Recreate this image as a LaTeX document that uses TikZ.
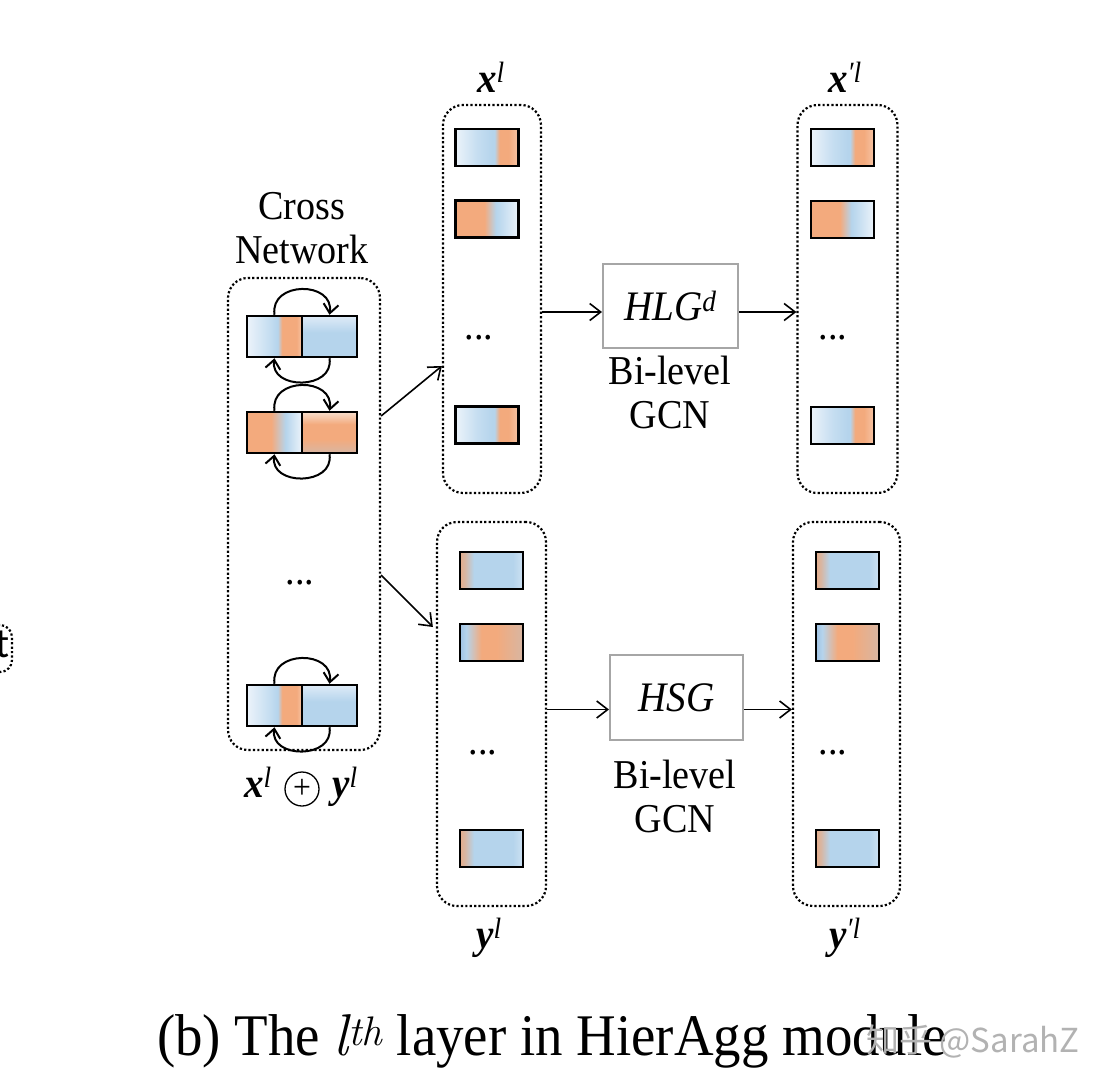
\documentclass[tikz,border=0pt]{standalone}
\usepackage{fontspec}
\setmainfont{Liberation Serif}[FakeStretch=0.93]
\newfontfamily\lmr{Latin Modern Roman}
\newfontfamily\sansf{Carlito}
\newfontfamily\cjk{Noto Sans CJK SC}
\usetikzlibrary{arrows.meta}

\definecolor{wb}{RGB}{236,243,250}
\definecolor{mb}{RGB}{198,222,241}
\definecolor{lb}{RGB}{181,212,236}
\definecolor{db}{RGB}{160,195,228}
\definecolor{orr}{RGB}{243,170,125}
\definecolor{lo}{RGB}{246,196,165}
\definecolor{tn}{RGB}{216,182,162}
\definecolor{tor}{RGB}{228,172,138}
\definecolor{lbt}{RGB}{222,235,247}
\definecolor{lot}{RGB}{248,222,204}
\definecolor{lbb}{RGB}{205,225,242}

% x-type bars: blue -> orange
\pgfdeclarehorizontalshading{sBO}{100bp}{color(0bp)=(wb); color(25bp)=(wb); color(42bp)=(mb); color(54bp)=(lb); color(56bp)=(lb); color(60bp)=(orr); color(67bp)=(orr); color(75bp)=(lo); color(100bp)=(lo)}
% x-type bars: orange -> blue
\pgfdeclarehorizontalshading{sOB}{100bp}{color(0bp)=(orr); color(25bp)=(orr); color(48bp)=(orr); color(57bp)=(lb); color(63bp)=(mb); color(75bp)=(wb); color(100bp)=(wb)}
% y-type bars
\pgfdeclarehorizontalshading{sTB}{100bp}{color(0bp)=(tor); color(25bp)=(tor); color(29bp)=(tn); color(36bp)=(lb); color(67bp)=(lb); color(75bp)=(lbb); color(100bp)=(lbb)}
\pgfdeclarehorizontalshading{sBT}{100bp}{color(0bp)=(db); color(25bp)=(db); color(30bp)=(lb); color(42bp)=(orr); color(54bp)=(orr); color(75bp)=(tn); color(100bp)=(tn)}
% cross network halves
\pgfdeclarehorizontalshading{cLa}{100bp}{color(0bp)=(wb); color(25bp)=(wb); color(45bp)=(mb); color(53bp)=(lb); color(57bp)=(orr); color(70bp)=(orr); color(75bp)=(lo); color(100bp)=(lo)}
\pgfdeclarehorizontalshading{cLb}{100bp}{color(0bp)=(orr); color(25bp)=(orr); color(47bp)=(orr); color(60bp)=(lb); color(75bp)=(wb); color(100bp)=(wb)}
\pgfdeclareverticalshading{cRa}{100bp}{color(0bp)=(lb); color(25bp)=(lb); color(55bp)=(lb); color(75bp)=(lbt); color(100bp)=(lbt)}
\pgfdeclareverticalshading{cRb}{100bp}{color(0bp)=(tn); color(25bp)=(tn); color(42bp)=(orr); color(60bp)=(orr); color(75bp)=(lot); color(100bp)=(lot)}

\newcommand{\supit}[1]{\textsuperscript{\mdseries\itshape #1}}

\begin{document}
\begin{tikzpicture}[x=1pt,y=-1pt,
  lbl/.style={font=\fontsize{41}{44}\selectfont, align=center, inner sep=0pt},
  var/.style={font=\fontsize{42}{44}\selectfont\bfseries\itshape, inner sep=0pt, anchor=base},
  dots/.style={font=\fontsize{41}{44}\selectfont, inner sep=0pt, anchor=base},
  bar/.style={draw, line width=2.5pt, shade, minimum width=63pt, minimum height=37pt, inner sep=0pt},
  half/.style={draw, line width=2.5pt, shade, minimum width=55pt, minimum height=41pt, inner sep=0pt},
  col/.style={draw, line width=2.2pt, dash pattern=on 2.2pt off 2.2pt, rounded corners=20pt, inner sep=0pt},
  gbox/.style={draw=black!35, line width=2pt, inner sep=0pt, font=\fontsize{42}{44}\selectfont\itshape},
  arr/.style={line width=1.6pt, -{Straight Barb[length=11pt,width=17pt]}},
  lp/.style={line width=2pt, -{Straight Barb[length=9pt,width=15pt]}}
]
\clip (0,0) rectangle (1109,1090);
\fill[white] (0,0) rectangle (1109,1090);

% partial node at the left edge
\node[col, rounded corners=12pt, minimum width=80pt, minimum height=47pt] (frag) at (-28,648.5) {};
\node[font=\sansf\fontsize{42}{44}\selectfont, inner sep=0pt, anchor=base] (fragt) at (3,657) {t};

% cross network
\node[lbl] (cntitle) at (302,228) {Cross\\Network};
\node[col, minimum width=152pt, minimum height=472pt] (cn) at (304,514) {};
\node[half, shading=cLa] (c1l) at (274.5,336.5) {};
\node[half, shading=cRa] (c1r) at (329.5,336.5) {};
\node[half, shading=cLb] (c2l) at (274.5,432.5) {};
\node[half, shading=cRb] (c2r) at (329.5,432.5) {};
\node[half, shading=cLa] (c3l) at (274.5,705.5) {};
\node[half, shading=cRa] (c3r) at (329.5,705.5) {};
\foreach \i in {1,2,3}{
  \draw[lp] (c\i l.north) .. controls +(-5,-34) and +(5,-34) .. (c\i r.north);
  \draw[lp] (c\i r.south) .. controls +(5,32) and +(-5,32) .. (c\i l.south);
}
\node[dots] (cndots) at (300,584) {...};
\node[var] (cnx) at (258,797) {x\supit{l}};
\node[circle, draw, line width=1.3pt, minimum size=34pt, inner sep=0pt, font=\fontsize{34}{34}\selectfont] (oplus) at (302,789) {+};
\node[var] (cny) at (345,797) {y\supit{l}};

% x^l column
\node[var] (xlab) at (491,92) {x\supit{l}};
\node[col, minimum width=98pt, minimum height=388pt] (xcol) at (492,299) {};
\node[bar, shading=sBO] (x1) at (487,147.5) {};
\node[bar, shading=sOB] (x2) at (487,219) {};
\node[dots] (xd) at (479,339) {...};
\node[bar, shading=sBO] (x3) at (487,425) {};

% y^l column
\node[col, minimum width=109pt, minimum height=384pt] (ycol) at (491.5,714) {};
\node[bar, shading=sTB] (y1) at (491.5,570.5) {};
\node[bar, shading=sBT] (y2) at (491.5,642.5) {};
\node[dots] (yd) at (483,754) {...};
\node[bar, shading=sTB] (y3) at (491.5,848.5) {};
\node[var] (ylab) at (489,948) {y\supit{l}};

% x'^l column
\node[var] (xplab) at (845,92) {x\supit{′l}};
\node[col, minimum width=100pt, minimum height=388pt] (xpcol) at (847.5,299) {};
\node[bar, shading=sBO] (xp1) at (842.5,147.5) {};
\node[bar, shading=sOB] (xp2) at (842.5,219.5) {};
\node[dots] (xpd) at (833,339) {...};
\node[bar, shading=sBO] (xp3) at (842.5,425.5) {};

% y'^l column
\node[col, minimum width=107pt, minimum height=384pt] (ypcol) at (846.5,714) {};
\node[bar, shading=sTB] (yp1) at (847.5,570.5) {};
\node[bar, shading=sBT] (yp2) at (847.5,642.5) {};
\node[dots] (ypd) at (833,754) {...};
\node[bar, shading=sTB] (yp3) at (847.5,848.5) {};
\node[var] (yplab) at (845,948) {y\supit{′l}};

% GCN boxes
\node[gbox, minimum width=135pt, minimum height=84pt] (hlg) at (670.5,306) {HLG\supit{d}};
\node[lbl] (hlgcap) at (670,392) {Bi-level\\GCN};
\node[gbox, minimum width=133pt, minimum height=85pt] (hsg) at (676.5,697.5) {HSG};
\node[lbl] (hsgcap) at (675,796) {Bi-level\\GCN};

% connectors
\draw[arr] ([yshift=98pt]cn.east) -- ([yshift=-67pt]xcol.west);
\draw[arr] ([yshift=-61pt]cn.east) -- ([xshift=-3pt,yshift=87pt]ycol.west);
\coordinate (h1) at ([yshift=-6pt]hlg.west);
\coordinate (h2) at ([yshift=-6pt]hlg.east);
\draw[arr] (xcol.east |- h1) -- (h1);
\draw[arr] (h2) -- (xpcol.west |- h2);
\coordinate (s1) at ([yshift=-12pt]hsg.west);
\coordinate (s2) at ([yshift=-12pt]hsg.east);
\draw[arr] (ycol.east |- s1) -- (s1);
\draw[arr] (s2) -- (ypcol.west |- s2);

% caption
\node[font=\fontsize{59}{66}\selectfont, inner sep=0pt, anchor=base] (cap) at (552,1055) {(b) The {\lmr\itshape l\textsuperscript{th}} layer in HierAgg module};
\node[font=\cjk\fontsize{33}{36}\selectfont, text=black!30, inner sep=0pt, anchor=base west] (wm) at (866,1052) {知乎 @SarahZ};
\end{tikzpicture}
\end{document}
